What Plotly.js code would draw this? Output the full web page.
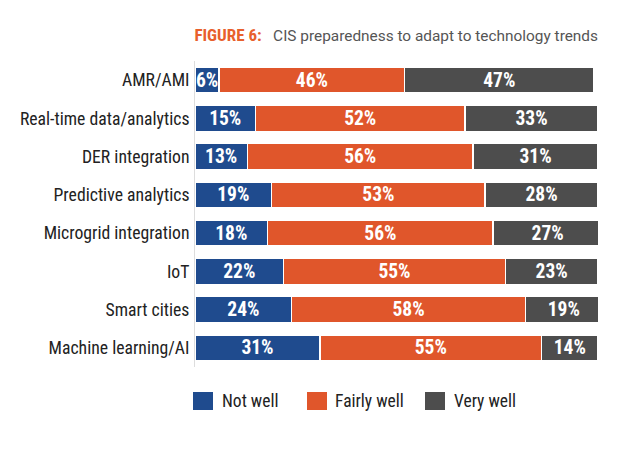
<!DOCTYPE html>
<html><head><meta charset="utf-8">
<script src="https://cdn.plot.ly/plotly-3.0.1.min.js"></script>
<style>body{margin:0;background:#fff}#c{width:638px;height:458px}</style>
</head><body><div id="c"></div>
<script>
const categories = ["AMR/AMI","Real-time data/analytics","DER integration","Predictive analytics","Microgrid integration","IoT","Smart cities","Machine learning/AI"];
const notWell = [6,15,13,19,18,22,24,31];
const fairlyWell = [46,52,56,53,56,55,58,55];
const veryWell = [47,33,31,28,27,23,19,14];
const seriesNames = ["Not well","Fairly well","Very well"];
const colors = ["#1f4b8e","#e0562b","#4d4d4d"];
const FONT = "'Liberation Sans Narrow', 'Roboto Condensed', Roboto, sans-serif";

const vals = [notWell, fairlyWell, veryWell];
const traces = vals.map((v,i)=>({
  type:'bar', orientation:'h', name: seriesNames[i],
  y: categories, x: v,
  text: v.map(d=>d+'%'), textposition:'inside', insidetextanchor:'middle',
  textfont:{family:FONT, size:19.5, color:'#fff', weight:700},
  marker:{color:colors[i], line:{color:'#fff', width:1.5}},
  showlegend:false, hoverinfo:'skip', constraintext:'none'
}));

const shapes = [], annotations = [];
const legX = [[193,220],[307,333],[425,452]];
legX.forEach((p,i)=>{
  shapes.push({type:'rect', xref:'paper', yref:'paper',
    x0:(p[0]-195)/403, x1:(p[0]+20-195)/403, y0:(367-410)/306, y1:(367-392)/306,
    fillcolor:colors[i], line:{width:0}});
  annotations.push({xref:'paper', yref:'paper', x:(p[1]-195)/403, y:(367-401)/306,
    xanchor:'left', yanchor:'middle', showarrow:false, text:seriesNames[i],
    font:{family:FONT, size:17.5, color:'#222'}});
});

const layout = {
  width:638, height:458, barmode:'stack', bargap:0.32,
  margin:{l:195, r:40, t:61, b:91},
  paper_bgcolor:'#fff', plot_bgcolor:'#fff',
  title:{text:'<b><span style="color:#e8602c;font-size:17px;font-family:Liberation Sans Narrow, Roboto Condensed, sans-serif">FIGURE 6:</span></b>   CIS preparedness to adapt to technology trends',
    x:598/638, xanchor:'right', xref:'container', y:1-36/458, yanchor:'middle', yref:'container',
    font:{family:"Roboto, 'Noto Sans', sans-serif", size:15.4, color:'#555'}},
  xaxis:{range:[0,100], visible:false, fixedrange:true},
  yaxis:{autorange:'reversed', type:'category', showgrid:false, zeroline:false,
    showline:true, linecolor:'#ddd', linewidth:1, ticks:'', ticklabelstandoff:1,
    tickfont:{family:FONT, size:17.7, color:'#222'}},
  uniformtext:{mode:false},
  shapes, annotations
};
Plotly.newPlot('c', traces, layout, {displayModeBar:false, staticPlot:true});
</script></body></html>
